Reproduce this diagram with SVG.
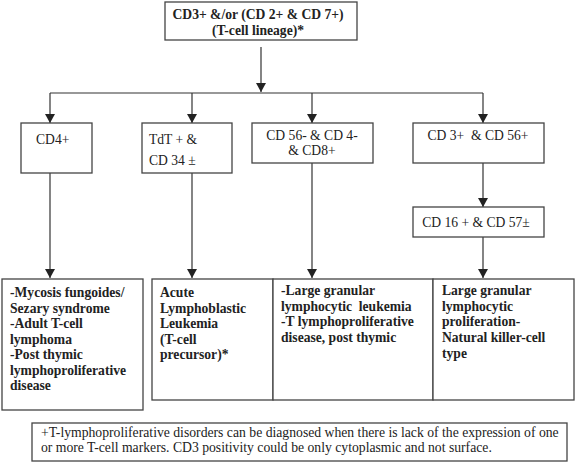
<svg xmlns="http://www.w3.org/2000/svg" width="576" height="464" viewBox="0 0 576 464">
<style>
.box{fill:#fff;stroke:#444;stroke-width:1.3}
text{font-family:'Liberation Serif','Times New Roman',Times,'DejaVu Serif',serif;fill:#222}
.t{font-size:13.6px}
.b{font-size:13.6px;font-weight:bold}
.h{font-size:13.6px;font-weight:bold}
.f{font-size:13.7px}
.c{text-anchor:middle}
.ln{stroke:#333;stroke-width:1.2;fill:none}
</style>
<defs>
<marker id="ah" markerWidth="10" markerHeight="10" refX="9" refY="5" orient="auto" markerUnits="userSpaceOnUse">
<path d="M0,0 L9,5 L0,10 z" fill="#222"/>
</marker>
</defs>
<g id="connectors">
<line class="ln" x1="261" y1="47" x2="261" y2="92" marker-end="url(#ah)"/>
<line class="ln" x1="50" y1="93" x2="483" y2="93"/>
<line class="ln" x1="50" y1="93" x2="50" y2="123" marker-end="url(#ah)"/>
<line class="ln" x1="192" y1="93" x2="192" y2="123" marker-end="url(#ah)"/>
<line class="ln" x1="312" y1="93" x2="312" y2="123" marker-end="url(#ah)"/>
<line class="ln" x1="483" y1="93" x2="483" y2="123" marker-end="url(#ah)"/>
<line class="ln" x1="483" y1="163" x2="483" y2="207" marker-end="url(#ah)"/>
<line class="ln" x1="50" y1="173" x2="50" y2="278" marker-end="url(#ah)"/>
<line class="ln" x1="192" y1="173" x2="192" y2="278" marker-end="url(#ah)"/>
<line class="ln" x1="312" y1="163" x2="312" y2="278" marker-end="url(#ah)"/>
<line class="ln" x1="483" y1="237" x2="483" y2="278" marker-end="url(#ah)"/>
</g>
<g id="root">
<rect class="box" x="165" y="2" width="192" height="38"/>
<text class="h c" x="258" y="19">CD3+ &amp;/or (CD 2+ &amp; CD 7+)</text>
<text class="h c" x="258" y="35">(T-cell lineage)*</text>
</g>
<g id="cd4">
<rect class="box" x="21" y="123" width="71" height="50"/>
<text class="t" x="36" y="144">CD4+</text>
</g>
<g id="tdt">
<rect class="box" x="142" y="123" width="90" height="50"/>
<text class="t" x="149" y="144">TdT + &amp;</text>
<text class="t" x="149" y="165">CD 34 ±</text>
</g>
<g id="cd56neg">
<rect class="box" x="252" y="123" width="121" height="40"/>
<text class="t c" x="312" y="140">CD 56- &amp; CD 4-</text>
<text class="t c" x="312" y="155">&amp; CD8+</text>
</g>
<g id="cd3cd56">
<rect class="box" x="413" y="123" width="131" height="40"/>
<text class="t c" x="478" y="140" xml:space="preserve">CD 3+  &amp; CD 56+</text>
</g>
<g id="cd16">
<rect class="box" x="413" y="207" width="131" height="30"/>
<text class="t c" x="476" y="227">CD 16 + &amp; CD 57±</text>
</g>
<g id="mycosis">
<rect class="box" x="2" y="279" width="141" height="131"/>
<text class="b" x="10" y="297">-Mycosis fungoides/</text>
<text class="b" x="10" y="313">Sezary syndrome</text>
<text class="b" x="10" y="328">-Adult T-cell</text>
<text class="b" x="10" y="344">lymphoma</text>
<text class="b" x="10" y="359">-Post thymic</text>
<text class="b" x="10" y="375">lymphoproliferative</text>
<text class="b" x="10" y="390">disease</text>
</g>
<g id="all">
<rect class="box" x="152" y="279" width="121" height="121"/>
<text class="b" x="160" y="297">Acute</text>
<text class="b" x="160" y="313">Lymphoblastic</text>
<text class="b" x="160" y="328">Leukemia</text>
<text class="b" x="160" y="344">(T-cell</text>
<text class="b" x="160" y="359">precursor)*</text>
</g>
<g id="lgl">
<rect class="box" x="273" y="279" width="160" height="121"/>
<text class="b" x="281" y="295">-Large granular</text>
<text class="b" x="281" y="311" xml:space="preserve">lymphocytic  leukemia</text>
<text class="b" x="281" y="326">-T lymphoproliferative</text>
<text class="b" x="281" y="342">disease, post thymic</text>
</g>
<g id="nk">
<rect class="box" x="433" y="279" width="141" height="121"/>
<text class="b" x="442" y="295">Large granular</text>
<text class="b" x="442" y="311">lymphocytic</text>
<text class="b" x="442" y="326">proliferation-</text>
<text class="b" x="442" y="342">Natural killer-cell</text>
<text class="b" x="442" y="358">type</text>
</g>
<g id="footnote">
<rect class="box" x="32" y="423" width="535" height="38"/>
<text class="f" x="41" y="437">+T-lymphoproliferative disorders can be diagnosed when there is lack of the expression of one</text>
<text class="f" x="41" y="452">or more T-cell markers. CD3 positivity could be only cytoplasmic and not surface.</text>
</g>
</svg>
